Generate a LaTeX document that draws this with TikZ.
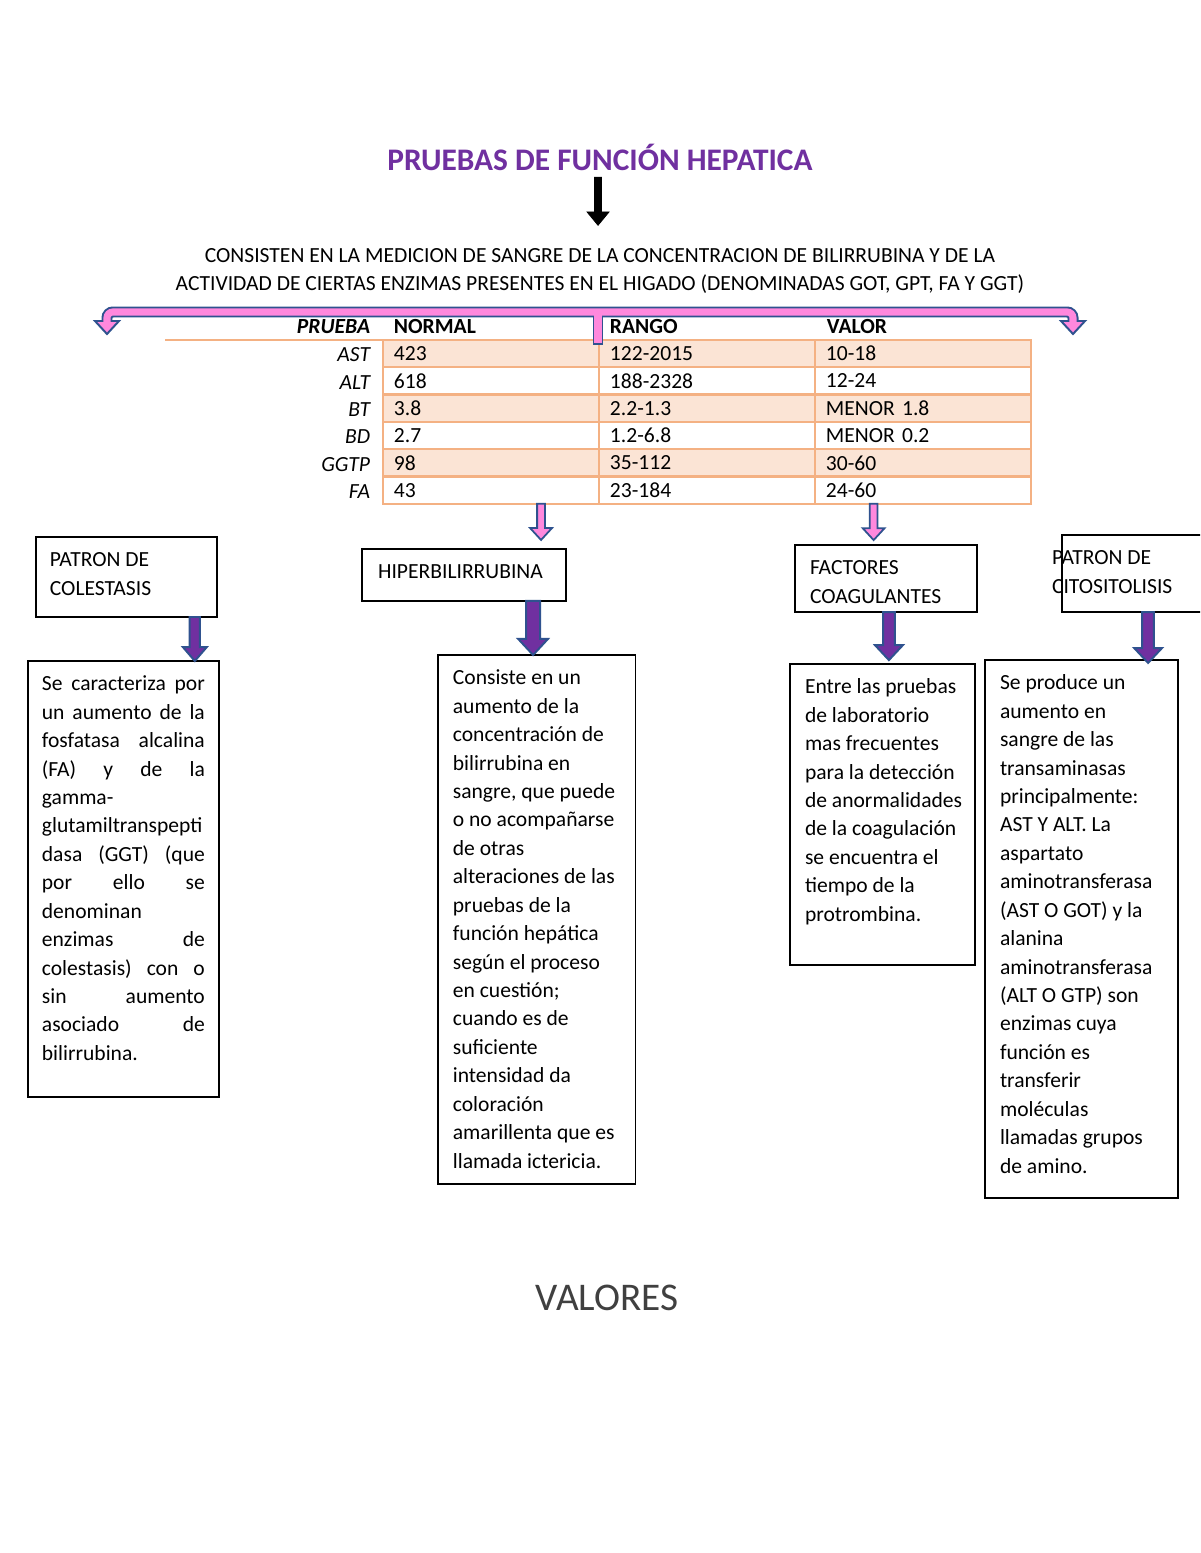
\documentclass[tikz,border=0pt]{standalone}
\usepackage{fontspec}
\setmainfont{Carlito}
\usetikzlibrary{calc}

\definecolor{titlepurple}{HTML}{7030A0}
\definecolor{bandpink}{HTML}{FF88DD}
\definecolor{edgeblue}{HTML}{2F528F}
\definecolor{cellorange}{HTML}{F4B183}
\definecolor{cellpeach}{HTML}{FBE4D5}
\definecolor{valgray}{HTML}{404040}

\newcommand{\jline}[1]{\makebox[83.1pt][s]{#1}}
\newcommand{\boxtext}[3]{\parbox[t][#1][t]{#2}{\begin{tabular}[t]{@{}l@{}}#3\end{tabular}}}

\begin{document}
\begin{tikzpicture}[x=0.51pt, y=-0.51pt,
    every node/.style={font=\fontsize{11}{14.5}\selectfont},
    cell/.style={draw=cellorange, line width=1.2pt, anchor=north west, outer sep=0pt,
        minimum width=110.2pt, minimum height=13.9pt, text width=99pt, align=left,
        inner xsep=5.6pt, inner ysep=0pt},
    rowlab/.style={anchor=east, font=\fontsize{11}{14.5}\selectfont\itshape},
    hdr/.style={anchor=west, font=\fontsize{11}{14.5}\selectfont\bfseries},
    framebox/.style={draw, anchor=north west, outer sep=0pt, inner ysep=5pt},
    heavybox/.style={framebox, line width=1.3pt},
    lightbox/.style={framebox, line width=0.6pt},
    barrow/.style args={#1/#2/#3}{to path={
        let \p1=(\tikztostart), \p2=(\tikztotarget) in
        (\x1-#1,\y1) -- (\x1-#1,\y2+#3) -- (\x1-#2,\y2+#3) -- (\x1,\y2)
        -- (\x1+#2,\y2+#3) -- (\x1+#1,\y2+#3) -- (\x1+#1,\y1) -- cycle}},
    ]
    \useasboundingbox (0,0) rectangle (1200,1553);
    \clip (0,0) rectangle (1200,1553);
    \fill[white] (0,0) rectangle (1200,1553);

    % title
    \node[font=\fontsize{16}{19}\selectfont\bfseries, text=titlepurple] (title) at (600,157)
        {PRUEBAS DE FUNCIÓN HEPATICA};
    \node[align=center] (intro) at (600,271)
        {CONSISTEN EN LA MEDICION DE SANGRE DE LA CONCENTRACION DE BILIRRUBINA Y DE LA\\
         ACTIVIDAD DE CIERTAS ENZIMAS PRESENTES EN EL HIGADO (DENOMINADAS GOT, GPT, FA Y GGT)};

    % table
    \node[hdr, anchor=east, font=\fontsize{11}{14.5}\selectfont\bfseries\itshape] (hprueba) at (377,327) {PRUEBA};
    \node[hdr] (hnormal) at (387,327) {NORMAL};
    \node[hdr] (hrango) at (603,327) {RANGO};
    \node[hdr] (hvalor) at (820,327) {VALOR};
    \foreach \lab/\nor/\ran/\val/\tone [count=\i] in {
            AST/423/122-2015/10-18/cellpeach,
            ALT/618/188-2328/12-24/white,
            BT/3.8/2.2-1.3/MENOR 1.8/cellpeach,
            BD/2.7/1.2-6.8/MENOR 0.2/white,
            GGTP/98/35-112/30-60/cellpeach,
            FA/43/23-184/24-60/white}
    {
        \pgfmathsetmacro{\rowtop}{340+27.3*(\i-1)}
        \node[rowlab] (lab\i) at (377,\rowtop+15) {\lab};
        \node[cell, fill=\tone] (nor\i) at (383,\rowtop) {\nor};
        \node[cell, fill=\tone] (ran\i) at (599,\rowtop) {\ran};
        \node[cell, fill=\tone] (val\i) at (815,\rowtop) {\val};
    }
    \draw[cellorange, line width=1.2pt] (165,340) -- (nor1.north west);

    % bracket over the table
    \draw[edgeblue, line width=5.6pt, rounded corners=3pt] (107,321) -- (107,312) -- (1073,312) -- (1073,321);
    \draw[edgeblue, line width=5.6pt] (598,312) -- (598,345);
    \draw[fill=bandpink, draw=edgeblue, line width=1pt] (95,321) -- (119,321) -- (107,334) -- cycle;
    \draw[fill=bandpink, draw=edgeblue, line width=1pt] (1061,321) -- (1085,321) -- (1073,334) -- cycle;
    \draw[bandpink, line width=3.6pt, rounded corners=3pt] (107,324) -- (107,312) -- (1073,312) -- (1073,324);
    \draw[bandpink, line width=3.6pt] (598,312) -- (598,343);

    % headings
    \node[heavybox, inner xsep=7.1pt] (colest) at (36,537)
        {\boxtext{30.8pt}{78pt}{PATRON DE\\COLESTASIS}};
    \node[heavybox, inner xsep=8.2pt] (hiper) at (362,549)
        {\boxtext{16.5pt}{87.7pt}{HIPERBILIRRUBINA}};
    \node[lightbox, inner xsep=7.65pt] (fact) at (795,545)
        {\boxtext{24.2pt}{77.5pt}{FACTORES\\COAGULANTES}};
    \node[lightbox, inner xsep=-5.1pt] (cito) at (1062,535)
        {\boxtext{29.3pt}{91.8pt}{PATRON DE\\CITOSITOLISIS}};

    % texts
    \node[heavybox, inner xsep=7.1pt] (colestxt) at (28,661)
        {\boxtext{212.4pt}{83.1pt}{
            \jline{Se caracteriza por}\\
            \jline{un aumento de la}\\
            \jline{fosfatasa alcalina}\\
            \jline{(FA) y de la}\\
            gamma-\\
            glutamiltranspepti\\
            \jline{dasa (GGT) (que}\\
            \jline{por ello se}\\
            denominan\\
            \jline{enzimas de}\\
            \jline{colestasis) con o}\\
            \jline{sin aumento}\\
            \jline{asociado de}\\
            bilirrubina.}};
    \node[lightbox, inner xsep=7.6pt] (hipertxt) at (438,655)
        {\boxtext{259.8pt}{85.7pt}{
            Consiste en un\\
            aumento de la\\
            concentración de\\
            bilirrubina en\\
            sangre, que puede\\
            o no acompañarse\\
            de otras\\
            alteraciones de las\\
            pruebas de la\\
            función hepática\\
            según el proceso\\
            en cuestión;\\
            cuando es de\\
            suficiente\\
            intensidad da\\
            coloración\\
            amarillenta que es\\
            llamada ictericia.}};
    \node[lightbox, inner xsep=7.65pt] (facttxt) at (790,664)
        {\boxtext{143.5pt}{79pt}{
            Entre las pruebas\\
            de laboratorio\\
            mas frecuentes\\
            para la detección\\
            de anormalidades\\
            de la coagulación\\
            se encuentra el\\
            tiempo de la\\
            protrombina.}};
    \node[heavybox, inner xsep=7.65pt] (citotxt) at (985,660)
        {\boxtext{264.4pt}{83.1pt}{
            Se produce un\\
            aumento en\\
            sangre de las\\
            transaminasas\\
            principalmente:\\
            AST Y ALT. La\\
            aspartato\\
            aminotransferasa\\
            (AST O GOT) y la\\
            alanina\\
            aminotransferasa\\
            (ALT O GTP) son\\
            enzimas cuya\\
            función es\\
            transferir\\
            moléculas\\
            llamadas grupos\\
            de amino.}};

    \node[font=\fontsize{20}{24}\selectfont, text=valgray] (valores) at (607,1298) {VALORES};

    % arrows
    \draw[barrow=1.8pt/5.6pt/6.8pt, fill=black] ([xshift=-1pt]title.south) to ([yshift=8.2pt]intro.north);
    \draw[barrow=2pt/5.6pt/6.1pt, fill=bandpink, draw=edgeblue, line width=0.9pt]
        ([xshift=25.5pt]nor6.south) to ([yshift=4.6pt]hiper.north);
    \draw[barrow=2pt/5.6pt/6.1pt, fill=bandpink, draw=edgeblue, line width=0.9pt]
        ([xshift=-25.2pt]val6.south) to ([yshift=2.5pt]fact.north);
    \draw[barrow=2.6pt/6.1pt/7.1pt, fill=titlepurple, draw=edgeblue, line width=1pt]
        ([xshift=-11.2pt]colest.south east) to (colestxt.north);
    \draw[barrow=3.6pt/7.6pt/8.2pt, fill=titlepurple, draw=edgeblue, line width=1pt]
        ([xshift=35.2pt]hiper.south) to (hipertxt.north);
    \draw[barrow=3pt/7.1pt/7.6pt, fill=titlepurple, draw=edgeblue, line width=1pt]
        ([xshift=1.5pt]fact.south) to ([yshift=2pt]facttxt.north);
    \draw[barrow=3pt/7.1pt/7.6pt, fill=titlepurple, draw=edgeblue, line width=1pt]
        ([xshift=43.9pt]cito.south west) to ([yshift=-1.5pt]citotxt.north);
\end{tikzpicture}
\end{document}
